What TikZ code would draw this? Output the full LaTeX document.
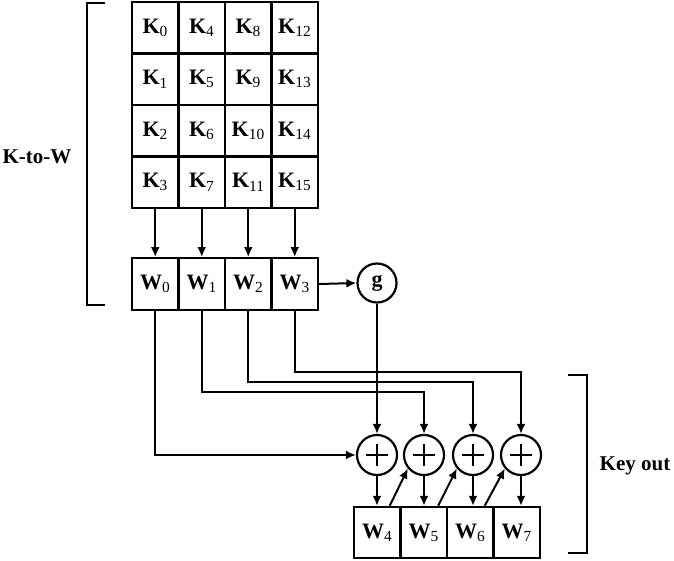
\documentclass[tikz,border=0pt]{standalone}
\usepackage{fontspec}
\setmainfont{Liberation Serif}
\usetikzlibrary{arrows.meta}
\begin{document}
\begin{tikzpicture}[x=1pt,y=-1pt,
  cell/.style={draw, line width=2.4pt, minimum width=46.5pt, minimum height=51.5pt, inner sep=0pt, font=\fontsize{22}{24}\selectfont\bfseries},
  xorc/.style={circle, draw, line width=2.2pt, minimum size=40pt, inner sep=0pt,
    path picture={\draw[line width=2.2pt] ([xshift=-11pt]path picture bounding box.center) -- ++(22pt,0pt)
      ([yshift=-11pt]path picture bounding box.center) -- ++(0pt,22pt);}},
  gc/.style={circle, draw, line width=2.2pt, minimum size=39pt, inner sep=0pt, font=\fontsize{22}{24}\selectfont\bfseries},
  arr/.style={line width=2pt, -{Latex[length=10pt,width=9pt]}},
  brk/.style={line width=2.4pt},
  lab/.style={font=\fontsize{21}{24}\selectfont\bfseries}]
\useasboundingbox (0,0) rectangle (674,560);
% K grid
\foreach \c in {0,...,3}{
  \foreach \r in {0,...,3}{
    \pgfmathtruncatemacro{\k}{4*\c+\r}
    \node[cell] (K\k) at (155.25+46.5*\c, 27.75+51.5*\r) {K\textsubscript{\mdseries\k}};
  }
}
% W row
\foreach \i in {0,...,3}{
  \node[cell] (W\i) at (155.25+46.5*\i, 284) {W\textsubscript{\mdseries\i}};
}
\foreach \i/\j in {0/4,1/5,2/6,3/7}{
  \node[cell, minimum height=51pt] (W\j) at (377.25+46.5*\i, 532.5) {W\textsubscript{\mdseries\j}};
}
\node[gc] (g) at (377,283) {g};
\node[xorc] (P1) at (377,455) {};
\node[xorc] (P2) at (424,455) {};
\node[xorc] (P3) at (473,455) {};
\node[xorc] (P4) at (521,455) {};
\coordinate (h1) at (0,392);
\coordinate (h2) at (0,382);
\coordinate (h3) at (0,372);
% K to W
\draw[arr] (K3.south) -- (W0.north);
\draw[arr] (K7.south) -- (W1.north);
\draw[arr] (K11.south) -- (W2.north);
\draw[arr] (K15.south) -- (W3.north);
\draw[arr] (W3.east) -- (g.west);
% to xors
\draw[arr] (g.south) -- (P1.north);
\draw[arr] (W0.south) |- (P1.west);
\draw[arr] (W1.south) -- (W1.south |- h1) -| (P2.north);
\draw[arr] (W2.south) -- (W2.south |- h2) -| (P3.north);
\draw[arr] (W3.south) -- (W3.south |- h3) -| (P4.north);
% xor outputs
\draw[arr] (P1.south) -- (P1.south |- W4.north);
\draw[arr] (P2.south) -- (P2.south |- W5.north);
\draw[arr] (P3.south) -- (P3.south |- W6.north);
\draw[arr] (P4.south) -- (P4.south |- W7.north);
\draw[arr] ([xshift=-12pt]W4.north east) -- (P2.220);
\draw[arr] ([xshift=-10pt]W5.north east) -- (P3.220);
\draw[arr] ([xshift=-10pt]W6.north east) -- (P4.220);
% brackets
\coordinate (b1) at (105,3);
\coordinate (b2) at (87,3);
\coordinate (b3) at (87,305);
\coordinate (b4) at (105,305);
\draw[brk] (b1) -- (b2) -- (b3) -- (b4);
\node[lab] (ktw) at (37,157) {K-to-W};
\coordinate (c1) at (568,375);
\coordinate (c2) at (587,375);
\coordinate (c3) at (587,553);
\coordinate (c4) at (568,553);
\draw[brk] (c1) -- (c2) -- (c3) -- (c4);
\node[lab] (ko) at (635,466) {Key out};
\end{tikzpicture}
\end{document}
